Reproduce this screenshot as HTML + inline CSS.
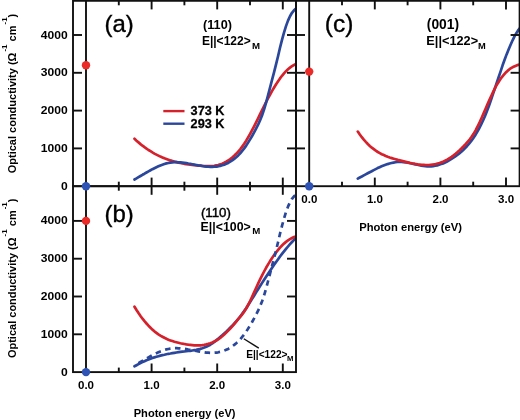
<!DOCTYPE html><html><head><meta charset="utf-8"><style>html,body{margin:0;padding:0;background:#fff;overflow:hidden}svg{display:block}text{font-family:"Liberation Sans",Arial,Helvetica,sans-serif}</style></head><body>
<svg width="520" height="420" viewBox="0 0 520 420">
<rect width="520" height="420" fill="#fff"/>
<defs><clipPath id="ca"><rect x="73" y="0.8" width="223" height="185.4"/></clipPath>
<clipPath id="cb"><rect x="73" y="186.2" width="223" height="185.9"/></clipPath>
<clipPath id="cc"><rect x="296" y="0.8" width="223.6" height="185.4"/></clipPath></defs>
<path d="M134.5,138.8 L136.5,140.7 L138.5,142.4 L140.5,144.1 L142.5,145.7 L144.5,147.2 L146.5,148.6 L148.5,150.0 L150.5,151.2 L152.4,152.4 L154.4,153.6 L156.4,154.6 L158.4,155.6 L160.4,156.6 L162.4,157.4 L164.4,158.3 L166.4,159.0 L168.4,159.7 L170.4,160.4 L172.4,161.0 L174.4,161.6 L176.4,162.1 L178.4,162.6 L180.4,163.0 L182.4,163.4 L184.3,163.8 L186.3,164.1 L188.3,164.4 L190.3,164.7 L192.3,164.9 L194.3,165.2 L196.3,165.4 L198.3,165.6 L200.3,165.7 L202.3,165.9 L204.3,166.0 L206.3,166.1 L208.3,166.1 L210.3,166.1 L212.3,166.0 L214.3,165.8 L216.2,165.4 L218.2,165.0 L220.2,164.4 L222.2,163.7 L224.2,162.8 L226.2,161.7 L228.2,160.5 L230.2,159.1 L232.2,157.6 L234.2,155.8 L236.2,153.8 L238.2,151.6 L240.2,149.3 L242.2,146.6 L244.2,143.8 L246.2,140.7 L248.1,137.4 L250.1,133.9 L252.1,130.2 L254.1,126.3 L256.1,122.4 L258.1,118.3 L260.1,114.2 L262.1,110.1 L264.1,106.1 L266.1,102.1 L268.1,98.2 L270.1,94.5 L272.1,90.9 L274.1,87.5 L276.1,84.2 L278.1,81.2 L280.0,78.4 L282.0,75.8 L284.0,73.4 L286.0,71.2 L288.0,69.3 L290.0,67.6 L292.0,66.1 L294.0,65.0 L296.0,64.1" fill="none" stroke="#d5212b" stroke-width="2.7" stroke-linejoin="round" stroke-linecap="round" clip-path="url(#ca)"/>
<path d="M134.5,179.5 L136.5,178.4 L138.5,177.2 L140.5,176.0 L142.5,174.8 L144.5,173.7 L146.5,172.5 L148.5,171.4 L150.5,170.3 L152.4,169.2 L154.4,168.2 L156.4,167.2 L158.4,166.3 L160.4,165.4 L162.4,164.7 L164.4,164.0 L166.4,163.4 L168.4,163.0 L170.4,162.6 L172.4,162.4 L174.4,162.2 L176.4,162.2 L178.4,162.3 L180.4,162.4 L182.4,162.6 L184.3,162.8 L186.3,163.1 L188.3,163.5 L190.3,163.8 L192.3,164.2 L194.3,164.6 L196.3,165.0 L198.3,165.4 L200.3,165.7 L202.3,166.0 L204.3,166.3 L206.3,166.6 L208.3,166.7 L210.3,166.8 L212.3,166.8 L214.3,166.7 L216.2,166.6 L218.2,166.3 L220.2,165.9 L222.2,165.3 L224.2,164.7 L226.2,163.8 L228.2,162.9 L230.2,161.7 L232.2,160.4 L234.2,158.9 L236.2,157.2 L238.2,155.4 L240.2,153.3 L242.2,150.9 L244.2,148.4 L246.2,145.6 L248.1,142.6 L250.1,139.4 L252.1,136.0 L254.1,132.4 L256.1,128.6 L258.1,124.7 L260.1,120.2 L262.1,115.2 L264.1,109.3 L266.1,102.5 L268.1,95.0 L270.1,87.3 L272.1,79.7 L274.1,72.1 L276.1,64.2 L278.1,56.0 L280.0,47.8 L282.0,39.9 L284.0,32.6 L286.0,26.1 L288.0,20.6 L290.0,16.2 L292.0,12.8 L294.0,10.3 L296.0,8.6" fill="none" stroke="#2a479b" stroke-width="2.7" stroke-linejoin="round" stroke-linecap="round" clip-path="url(#ca)"/>
<path d="M134.5,366.3 L136.5,365.2 L138.5,364.1 L140.5,363.0 L142.5,362.1 L144.5,361.2 L146.5,360.3 L148.5,359.5 L150.5,358.7 L152.4,358.0 L154.4,357.4 L156.4,356.8 L158.4,356.2 L160.4,355.6 L162.4,355.1 L164.4,354.7 L166.4,354.2 L168.4,353.8 L170.4,353.5 L172.4,353.1 L174.4,352.8 L176.4,352.5 L178.4,352.2 L180.4,351.9 L182.4,351.7 L184.3,351.5 L186.3,351.2 L188.3,351.0 L190.3,350.8 L192.3,350.5 L194.3,350.2 L196.3,349.9 L198.3,349.4 L200.3,348.9 L202.3,348.3 L204.3,347.6 L206.3,346.8 L208.3,345.8 L210.3,344.7 L212.3,343.4 L214.3,341.9 L216.2,340.4 L218.2,338.7 L220.2,337.0 L222.2,335.3 L224.2,333.5 L226.2,331.7 L228.2,329.8 L230.2,327.8 L232.2,325.8 L234.2,323.6 L236.2,321.4 L238.2,319.0 L240.2,316.5 L242.2,313.9 L244.2,311.1 L246.2,308.2 L248.1,305.2 L250.1,302.1 L252.1,298.9 L254.1,295.7 L256.1,292.4 L258.1,289.2 L260.1,286.1 L262.1,282.9 L264.1,279.8 L266.1,276.7 L268.1,273.7 L270.1,270.7 L272.1,267.7 L274.1,264.8 L276.1,262.0 L278.1,259.3 L280.0,256.5 L282.0,253.9 L284.0,251.4 L286.0,248.9 L288.0,246.5 L290.0,244.2 L292.0,242.0 L294.0,239.8 L296.0,237.8" fill="none" stroke="#2a479b" stroke-width="2.7" stroke-linejoin="round" stroke-linecap="round" clip-path="url(#cb)"/>
<path d="M134.5,306.7 L136.5,310.0 L138.5,313.1 L140.5,316.0 L142.5,318.7 L144.5,321.2 L146.5,323.5 L148.5,325.7 L150.5,327.7 L152.4,329.6 L154.4,331.3 L156.4,332.8 L158.4,334.3 L160.4,335.6 L162.4,336.7 L164.4,337.8 L166.4,338.8 L168.4,339.7 L170.4,340.4 L172.4,341.1 L174.4,341.8 L176.4,342.3 L178.4,342.8 L180.4,343.3 L182.4,343.7 L184.3,344.0 L186.3,344.4 L188.3,344.7 L190.3,344.9 L192.3,345.1 L194.3,345.3 L196.3,345.4 L198.3,345.4 L200.3,345.3 L202.3,345.1 L204.3,344.8 L206.3,344.4 L208.3,343.9 L210.3,343.3 L212.3,342.5 L214.3,341.6 L216.2,340.5 L218.2,339.3 L220.2,337.9 L222.2,336.3 L224.2,334.5 L226.2,332.6 L228.2,330.6 L230.2,328.5 L232.2,326.3 L234.2,324.0 L236.2,321.6 L238.2,319.2 L240.2,316.8 L242.2,314.3 L244.2,311.6 L246.2,308.5 L248.1,304.9 L250.1,301.0 L252.1,296.8 L254.1,292.4 L256.1,288.0 L258.1,283.6 L260.1,279.4 L262.1,275.4 L264.1,271.5 L266.1,267.8 L268.1,264.4 L270.1,261.1 L272.1,258.0 L274.1,255.1 L276.1,252.4 L278.1,249.9 L280.0,247.6 L282.0,245.5 L284.0,243.6 L286.0,241.9 L288.0,240.4 L290.0,239.1 L292.0,238.0 L294.0,237.1 L296.0,236.4" fill="none" stroke="#d5212b" stroke-width="2.7" stroke-linejoin="round" stroke-linecap="round" clip-path="url(#cb)"/>
<path d="M134.5,365.5 L136.5,364.4 L138.5,363.2 L140.5,362.0 L142.5,360.8 L144.5,359.7 L146.5,358.5 L148.5,357.4 L150.5,356.3 L152.4,355.2 L154.4,354.2 L156.4,353.2 L158.4,352.3 L160.4,351.4 L162.4,350.7 L164.4,350.0 L166.4,349.4 L168.4,349.0 L170.4,348.6 L172.4,348.4 L174.4,348.2 L176.4,348.2 L178.4,348.3 L180.4,348.4 L182.4,348.6 L184.3,348.8 L186.3,349.1 L188.3,349.5 L190.3,349.8 L192.3,350.2 L194.3,350.6 L196.3,351.0 L198.3,351.4 L200.3,351.7 L202.3,352.0 L204.3,352.3 L206.3,352.6 L208.3,352.7 L210.3,352.8 L212.3,352.8 L214.3,352.7 L216.2,352.6 L218.2,352.3 L220.2,351.9 L222.2,351.3 L224.2,350.7 L226.2,349.8 L228.2,348.9 L230.2,347.7 L232.2,346.4 L234.2,344.9 L236.2,343.2 L238.2,341.4 L240.2,339.3 L242.2,336.9 L244.2,334.4 L246.2,331.6 L248.1,328.6 L250.1,325.4 L252.1,322.0 L254.1,318.4 L256.1,314.6 L258.1,310.7 L260.1,306.2 L262.1,301.2 L264.1,295.3 L266.1,288.5 L268.1,281.0 L270.1,273.3 L272.1,265.7 L274.1,258.1 L276.1,250.2 L278.1,242.0 L280.0,233.8 L282.0,225.9 L284.0,218.6 L286.0,212.1 L288.0,206.6 L290.0,202.2 L292.0,198.8 L294.0,196.3 L296.0,194.6" fill="none" stroke="#2a479b" stroke-width="2.7" stroke-linejoin="round" stroke-dasharray="5.5,4.5" stroke-dashoffset="5.5" clip-path="url(#cb)"/>
<path d="M357.8,178.6 L359.8,177.5 L361.8,176.5 L363.8,175.4 L365.7,174.4 L367.7,173.3 L369.7,172.2 L371.7,171.2 L373.7,170.1 L375.7,169.1 L377.6,168.1 L379.6,167.2 L381.6,166.3 L383.6,165.5 L385.6,164.8 L387.6,164.1 L389.5,163.5 L391.5,163.0 L393.5,162.6 L395.5,162.2 L397.5,162.0 L399.5,161.9 L401.5,162.0 L403.4,162.1 L405.4,162.3 L407.4,162.7 L409.4,163.0 L411.4,163.5 L413.4,163.9 L415.3,164.4 L417.3,164.8 L419.3,165.2 L421.3,165.6 L423.3,166.0 L425.3,166.2 L427.2,166.4 L429.2,166.4 L431.2,166.4 L433.2,166.2 L435.2,165.8 L437.2,165.4 L439.1,164.8 L441.1,164.1 L443.1,163.4 L445.1,162.5 L447.1,161.5 L449.1,160.4 L451.1,159.2 L453.0,157.9 L455.0,156.6 L457.0,155.2 L459.0,153.7 L461.0,152.0 L463.0,150.2 L464.9,148.3 L466.9,146.2 L468.9,143.9 L470.9,141.4 L472.9,138.7 L474.9,135.8 L476.8,132.5 L478.8,129.0 L480.8,125.2 L482.8,121.0 L484.8,116.5 L486.8,111.5 L488.8,106.3 L490.7,100.7 L492.7,94.9 L494.7,89.0 L496.7,83.0 L498.7,77.0 L500.7,71.1 L502.6,65.3 L504.6,59.8 L506.6,54.4 L508.6,49.4 L510.6,44.7 L512.6,40.3 L514.5,36.4 L516.5,32.9 L518.5,29.8 L520.5,27.4" fill="none" stroke="#2a479b" stroke-width="2.7" stroke-linejoin="round" stroke-linecap="round" clip-path="url(#cc)"/>
<path d="M357.8,131.6 L359.8,134.5 L361.8,137.2 L363.8,139.7 L365.8,141.9 L367.8,144.0 L369.8,145.9 L371.8,147.7 L373.8,149.2 L375.8,150.7 L377.8,152.0 L379.8,153.1 L381.8,154.2 L383.8,155.1 L385.7,156.0 L387.7,156.8 L389.7,157.5 L391.7,158.1 L393.7,158.7 L395.7,159.3 L397.7,159.9 L399.7,160.4 L401.7,160.9 L403.7,161.4 L405.7,161.9 L407.7,162.4 L409.7,162.9 L411.7,163.3 L413.7,163.7 L415.7,164.0 L417.7,164.4 L419.7,164.6 L421.7,164.8 L423.7,164.9 L425.7,165.0 L427.7,165.0 L429.7,164.9 L431.7,164.7 L433.7,164.4 L435.7,164.0 L437.7,163.5 L439.6,163.0 L441.6,162.2 L443.6,161.4 L445.6,160.4 L447.6,159.4 L449.6,158.1 L451.6,156.8 L453.6,155.3 L455.6,153.7 L457.6,152.0 L459.6,150.2 L461.6,148.3 L463.6,146.3 L465.6,144.2 L467.6,141.9 L469.6,139.5 L471.6,136.8 L473.6,133.8 L475.6,130.3 L477.6,126.5 L479.6,122.4 L481.6,118.0 L483.6,113.4 L485.6,108.7 L487.6,104.1 L489.6,99.6 L491.6,95.2 L493.5,91.1 L495.5,87.2 L497.5,83.7 L499.5,80.5 L501.5,77.6 L503.5,75.1 L505.5,72.8 L507.5,70.9 L509.5,69.2 L511.5,67.9 L513.5,66.8 L515.5,65.9 L517.5,65.1 L519.5,64.5" fill="none" stroke="#d5212b" stroke-width="2.7" stroke-linejoin="round" stroke-linecap="round" clip-path="url(#cc)"/>
<line x1="86.00" y1="0.80" x2="86.00" y2="372.10" stroke="#111" stroke-width="1.9"/>
<line x1="309.20" y1="0.80" x2="309.20" y2="186.20" stroke="#111" stroke-width="1.9"/>
<g fill="none" stroke="#111" stroke-width="1.9">
<rect x="73" y="0.8" width="223" height="185.4"/>
<rect x="73" y="186.2" width="223" height="185.9"/>
<rect x="296" y="0.8" width="223.6" height="185.4"/>
</g>
<line x1="118.80" y1="0.80" x2="118.80" y2="5.30" stroke="#111" stroke-width="1.9"/>
<line x1="118.80" y1="186.20" x2="118.80" y2="181.70" stroke="#111" stroke-width="1.9"/>
<line x1="342.00" y1="0.80" x2="342.00" y2="5.30" stroke="#111" stroke-width="1.9"/>
<line x1="342.00" y1="186.20" x2="342.00" y2="181.70" stroke="#111" stroke-width="1.9"/>
<line x1="118.80" y1="186.20" x2="118.80" y2="190.70" stroke="#111" stroke-width="1.9"/>
<line x1="118.80" y1="372.10" x2="118.80" y2="367.60" stroke="#111" stroke-width="1.9"/>
<line x1="151.60" y1="0.80" x2="151.60" y2="9.40" stroke="#111" stroke-width="1.9"/>
<line x1="151.60" y1="186.20" x2="151.60" y2="177.60" stroke="#111" stroke-width="1.9"/>
<line x1="374.80" y1="0.80" x2="374.80" y2="9.40" stroke="#111" stroke-width="1.9"/>
<line x1="374.80" y1="186.20" x2="374.80" y2="177.60" stroke="#111" stroke-width="1.9"/>
<line x1="151.60" y1="186.20" x2="151.60" y2="194.80" stroke="#111" stroke-width="1.9"/>
<line x1="151.60" y1="372.10" x2="151.60" y2="363.50" stroke="#111" stroke-width="1.9"/>
<line x1="184.40" y1="0.80" x2="184.40" y2="5.30" stroke="#111" stroke-width="1.9"/>
<line x1="184.40" y1="186.20" x2="184.40" y2="181.70" stroke="#111" stroke-width="1.9"/>
<line x1="407.60" y1="0.80" x2="407.60" y2="5.30" stroke="#111" stroke-width="1.9"/>
<line x1="407.60" y1="186.20" x2="407.60" y2="181.70" stroke="#111" stroke-width="1.9"/>
<line x1="184.40" y1="186.20" x2="184.40" y2="190.70" stroke="#111" stroke-width="1.9"/>
<line x1="184.40" y1="372.10" x2="184.40" y2="367.60" stroke="#111" stroke-width="1.9"/>
<line x1="217.20" y1="0.80" x2="217.20" y2="9.40" stroke="#111" stroke-width="1.9"/>
<line x1="217.20" y1="186.20" x2="217.20" y2="177.60" stroke="#111" stroke-width="1.9"/>
<line x1="440.40" y1="0.80" x2="440.40" y2="9.40" stroke="#111" stroke-width="1.9"/>
<line x1="440.40" y1="186.20" x2="440.40" y2="177.60" stroke="#111" stroke-width="1.9"/>
<line x1="217.20" y1="186.20" x2="217.20" y2="194.80" stroke="#111" stroke-width="1.9"/>
<line x1="217.20" y1="372.10" x2="217.20" y2="363.50" stroke="#111" stroke-width="1.9"/>
<line x1="250.00" y1="0.80" x2="250.00" y2="5.30" stroke="#111" stroke-width="1.9"/>
<line x1="250.00" y1="186.20" x2="250.00" y2="181.70" stroke="#111" stroke-width="1.9"/>
<line x1="473.20" y1="0.80" x2="473.20" y2="5.30" stroke="#111" stroke-width="1.9"/>
<line x1="473.20" y1="186.20" x2="473.20" y2="181.70" stroke="#111" stroke-width="1.9"/>
<line x1="250.00" y1="186.20" x2="250.00" y2="190.70" stroke="#111" stroke-width="1.9"/>
<line x1="250.00" y1="372.10" x2="250.00" y2="367.60" stroke="#111" stroke-width="1.9"/>
<line x1="282.80" y1="0.80" x2="282.80" y2="9.40" stroke="#111" stroke-width="1.9"/>
<line x1="282.80" y1="186.20" x2="282.80" y2="177.60" stroke="#111" stroke-width="1.9"/>
<line x1="506.00" y1="0.80" x2="506.00" y2="9.40" stroke="#111" stroke-width="1.9"/>
<line x1="506.00" y1="186.20" x2="506.00" y2="177.60" stroke="#111" stroke-width="1.9"/>
<line x1="282.80" y1="186.20" x2="282.80" y2="194.80" stroke="#111" stroke-width="1.9"/>
<line x1="282.80" y1="372.10" x2="282.80" y2="363.50" stroke="#111" stroke-width="1.9"/>
<line x1="73.00" y1="148.40" x2="82.00" y2="148.40" stroke="#111" stroke-width="1.9"/>
<line x1="287.00" y1="148.40" x2="305.00" y2="148.40" stroke="#111" stroke-width="1.9"/>
<line x1="510.60" y1="148.40" x2="519.60" y2="148.40" stroke="#111" stroke-width="1.9"/>
<line x1="73.00" y1="334.30" x2="82.00" y2="334.30" stroke="#111" stroke-width="1.9"/>
<line x1="287.00" y1="334.30" x2="296.00" y2="334.30" stroke="#111" stroke-width="1.9"/>
<line x1="73.00" y1="110.60" x2="82.00" y2="110.60" stroke="#111" stroke-width="1.9"/>
<line x1="287.00" y1="110.60" x2="305.00" y2="110.60" stroke="#111" stroke-width="1.9"/>
<line x1="510.60" y1="110.60" x2="519.60" y2="110.60" stroke="#111" stroke-width="1.9"/>
<line x1="73.00" y1="296.50" x2="82.00" y2="296.50" stroke="#111" stroke-width="1.9"/>
<line x1="287.00" y1="296.50" x2="296.00" y2="296.50" stroke="#111" stroke-width="1.9"/>
<line x1="73.00" y1="72.80" x2="82.00" y2="72.80" stroke="#111" stroke-width="1.9"/>
<line x1="287.00" y1="72.80" x2="305.00" y2="72.80" stroke="#111" stroke-width="1.9"/>
<line x1="510.60" y1="72.80" x2="519.60" y2="72.80" stroke="#111" stroke-width="1.9"/>
<line x1="73.00" y1="258.70" x2="82.00" y2="258.70" stroke="#111" stroke-width="1.9"/>
<line x1="287.00" y1="258.70" x2="296.00" y2="258.70" stroke="#111" stroke-width="1.9"/>
<line x1="73.00" y1="35.00" x2="82.00" y2="35.00" stroke="#111" stroke-width="1.9"/>
<line x1="287.00" y1="35.00" x2="305.00" y2="35.00" stroke="#111" stroke-width="1.9"/>
<line x1="510.60" y1="35.00" x2="519.60" y2="35.00" stroke="#111" stroke-width="1.9"/>
<line x1="73.00" y1="220.90" x2="82.00" y2="220.90" stroke="#111" stroke-width="1.9"/>
<line x1="287.00" y1="220.90" x2="296.00" y2="220.90" stroke="#111" stroke-width="1.9"/>
<circle cx="86.00" cy="65.24" r="4.2" fill="#ea2b27"/>
<circle cx="86.00" cy="186.20" r="4.2" fill="#2f53b5"/>
<circle cx="86.00" cy="220.90" r="4.2" fill="#ea2b27"/>
<circle cx="86.00" cy="372.10" r="4.2" fill="#2f53b5"/>
<circle cx="309.20" cy="71.60" r="4.2" fill="#ea2b27"/>
<circle cx="309.20" cy="186.20" r="4.2" fill="#2f53b5"/>
<line x1="163.30" y1="111.10" x2="184.50" y2="111.10" stroke="#d5212b" stroke-width="2.4"/>
<line x1="163.30" y1="123.70" x2="184.50" y2="123.70" stroke="#2a479b" stroke-width="2.4"/>
<text transform="translate(67.60,189.70) scale(1.100,1)" font-size="11" font-weight="bold" text-anchor="end">0</text>
<text transform="translate(67.60,151.90) scale(1.100,1)" font-size="11" font-weight="bold" text-anchor="end">1000</text>
<text transform="translate(67.60,114.10) scale(1.100,1)" font-size="11" font-weight="bold" text-anchor="end">2000</text>
<text transform="translate(67.60,76.30) scale(1.100,1)" font-size="11" font-weight="bold" text-anchor="end">3000</text>
<text transform="translate(67.60,38.50) scale(1.100,1)" font-size="11" font-weight="bold" text-anchor="end">4000</text>
<text transform="translate(67.60,375.60) scale(1.100,1)" font-size="11" font-weight="bold" text-anchor="end">0</text>
<text transform="translate(67.60,337.80) scale(1.100,1)" font-size="11" font-weight="bold" text-anchor="end">1000</text>
<text transform="translate(67.60,300.00) scale(1.100,1)" font-size="11" font-weight="bold" text-anchor="end">2000</text>
<text transform="translate(67.60,262.20) scale(1.100,1)" font-size="11" font-weight="bold" text-anchor="end">3000</text>
<text transform="translate(67.60,224.40) scale(1.100,1)" font-size="11" font-weight="bold" text-anchor="end">4000</text>
<text transform="translate(86.00,388.80) scale(1.050,1)" font-size="11" font-weight="bold" text-anchor="middle">0.0</text>
<text transform="translate(309.30,203.00) scale(1.050,1)" font-size="11" font-weight="bold" text-anchor="middle">0.0</text>
<text transform="translate(151.60,388.80) scale(1.050,1)" font-size="11" font-weight="bold" text-anchor="middle">1.0</text>
<text transform="translate(374.90,203.00) scale(1.050,1)" font-size="11" font-weight="bold" text-anchor="middle">1.0</text>
<text transform="translate(217.20,388.80) scale(1.050,1)" font-size="11" font-weight="bold" text-anchor="middle">2.0</text>
<text transform="translate(440.50,203.00) scale(1.050,1)" font-size="11" font-weight="bold" text-anchor="middle">2.0</text>
<text transform="translate(282.80,388.80) scale(1.050,1)" font-size="11" font-weight="bold" text-anchor="middle">3.0</text>
<text transform="translate(506.10,203.00) scale(1.050,1)" font-size="11" font-weight="bold" text-anchor="middle">3.0</text>
<text transform="translate(184.60,417.30) scale(1.010,1)" font-size="11" font-weight="bold" text-anchor="middle">Photon energy (eV)</text>
<text transform="translate(410.60,231.10) scale(1.020,1)" font-size="11" font-weight="bold" text-anchor="middle">Photon energy (eV)</text>
<text transform="translate(16.3,93.50) rotate(-90)" font-size="11" font-weight="bold" text-anchor="middle">Optical conductivity (&#937;<tspan dx="1" dy="-9" font-size="8">-1</tspan><tspan dy="9"> cm</tspan><tspan dx="1" dy="-9" font-size="8">-1</tspan><tspan dy="9">)</tspan></text>
<text transform="translate(16.3,278.30) rotate(-90)" font-size="11" font-weight="bold" text-anchor="middle">Optical conductivity (&#937;<tspan dx="1" dy="-9" font-size="8">-1</tspan><tspan dy="9"> cm</tspan><tspan dx="1" dy="-9" font-size="8">-1</tspan><tspan dy="9">)</tspan></text>
<text transform="translate(104.50,31.90) scale(1.020,1)" font-size="23.5" font-weight="normal" text-anchor="start" stroke="#000" stroke-width="0.35">(a)</text>
<text transform="translate(104.50,221.90) scale(1.020,1)" font-size="23.5" font-weight="normal" text-anchor="start" stroke="#000" stroke-width="0.35">(b)</text>
<text transform="translate(324.80,32.00) scale(1.040,1)" font-size="23.5" font-weight="normal" text-anchor="start" stroke="#000" stroke-width="0.35">(c)</text>
<text transform="translate(203.00,28.60) scale(1.060,1)" font-size="12" font-weight="bold" text-anchor="start">(110)</text>
<text transform="translate(201.90,44.90) scale(1.000,1)" font-size="12" font-weight="bold" text-anchor="start">E||&lt;122&gt;</text>
<text transform="translate(251.90,48.50) scale(1.040,1)" font-size="9.3" font-weight="bold" text-anchor="start">M</text>
<text transform="translate(200.90,216.50) scale(1.080,1)" font-size="12.3" font-weight="normal" text-anchor="start" stroke="#000" stroke-width="0.4">(110)</text>
<text transform="translate(200.60,230.70) scale(1.030,1)" font-size="12" font-weight="bold" text-anchor="start">E||&lt;100&gt;</text>
<text transform="translate(252.20,234.00) scale(1.020,1)" font-size="9.5" font-weight="bold" text-anchor="start">M</text>
<text transform="translate(426.80,28.90) scale(1.000,1)" font-size="13.8" font-weight="bold" text-anchor="start">(001)</text>
<text transform="translate(426.30,45.30) scale(1.030,1)" font-size="12.4" font-weight="bold" text-anchor="start">E||&lt;122&gt;</text>
<text transform="translate(477.90,48.70) scale(0.980,1)" font-size="9.5" font-weight="bold" text-anchor="start">M</text>
<text transform="translate(190.60,114.60) scale(1.060,1)" font-size="12" font-weight="bold" text-anchor="start" stroke="#000" stroke-width="0.25">373 K</text>
<text transform="translate(190.60,127.80) scale(1.060,1)" font-size="12" font-weight="bold" text-anchor="start" stroke="#000" stroke-width="0.25">293 K</text>
<line x1="243.80" y1="338.80" x2="258.80" y2="348.10" stroke="#111" stroke-width="1.3"/>
<text transform="translate(246.20,358.40) scale(0.970,1)" font-size="10.5" font-weight="bold" text-anchor="start">E||&lt;122&gt;</text>
<text transform="translate(286.90,361.20) scale(1.030,1)" font-size="7.5" font-weight="bold" text-anchor="start">M</text>
</svg></body></html>
